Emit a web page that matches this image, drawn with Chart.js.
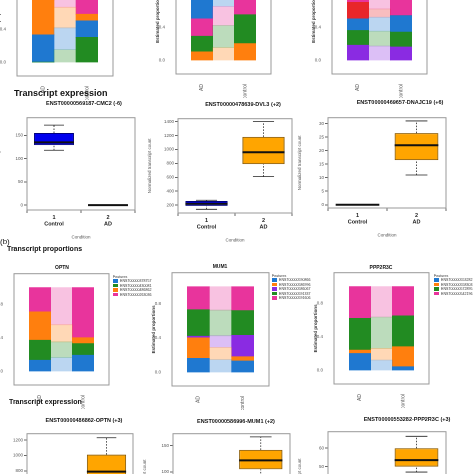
<!DOCTYPE html>
<html><head><meta charset="utf-8">
<script src="https://cdn.jsdelivr.net/npm/chart.js@4.4.0/dist/chart.umd.min.js"></script>
<style>
body{margin:0;width:474px;height:474px;overflow:hidden;background:#fff;position:relative;font-family:"Liberation Sans",Arial,sans-serif}
canvas{position:absolute}
.t{position:absolute;white-space:nowrap;color:#111}
.b{font-weight:bold}
.lg{position:absolute;font-size:3.6px;line-height:4.4px;color:#333}
.lg span{display:inline-block;width:5px;height:3.6px;margin-right:2px;vertical-align:top}
</style></head><body>
<script>
// ---------- data ----------
const BLUE='#1f78d0', ORANGE='#ff7f0e', GREEN='#228b22', PINK='#e8349c', PURPLE='#8a2be2', RED='#e8262a';
const propCats=['AD','','control'];
// top row proportions (segments bottom -> top)
const p1Colors=[GREEN,BLUE,ORANGE,PINK];   const p1AD=[0,0.33,0.42,0.25];  const p1Ctl=[0.3,0.2,0.08,0.42];
const p2Colors=[ORANGE,GREEN,PINK,BLUE];   const p2AD=[0.1,0.19,0.21,0.5]; const p2Ctl=[0.2,0.35,0.25,0.2];
const p3Colors=[PURPLE,GREEN,BLUE,RED,PINK,ORANGE]; const p3AD=[0.18,0.18,0.14,0.2,0.3,0]; const p3Ctl=[0.16,0.18,0.2,0,0.22,0.24];
// bottom row proportions
const p4Colors=[BLUE,GREEN,ORANGE,PINK];   const p4AD=[0.13,0.24,0.34,0.29]; const p4Ctl=[0.19,0.14,0.07,0.6];
const p4Names=['ENST00000378757','ENST00000430081','ENST00000486862','ENST00000263036'];
const p5Colors=[BLUE,ORANGE,PURPLE,GREEN,PINK]; const p5AD=[0.16,0.24,0.02,0.31,0.27]; const p5Ctl=[0.13,0.05,0.25,0.29,0.28];
const p5Names=['ENST00000590866','ENST00000586996','ENST00000586067','ENST00000591337','ENST00000591606'];
const p6Colors=[BLUE,ORANGE,GREEN,PINK];   const p6AD=[0.2,0.04,0.38,0.38]; const p6Ctl=[0.04,0.24,0.37,0.35];
const p6Names=['ENST00000553282','ENST00000558303','ENST00000572895','ENST00000542196'];
// box plots: [min,q1,median,q3,max]; categories Control, AD
const boxCats=[['1','Control'],['2','AD']];
const b1Ctl=[118,129,135,155,172]; const b1AD=[0,0,0,0,0];
const b2Ctl=[140,190,220,260,270]; const b2AD=[610,790,960,1180,1400];
const b3Ctl=[0,0,0,0,0];           const b3AD=[11,16.5,22,26.5,31];
const b4Ctl=[100,150,200,250,300]; const b4AD=[450,600,790,1010,1230];
const b5Ctl=[20,30,40,50,60];      const b5AD=[80,105,122,142,167];
const b6Ctl=[15,20,25,30,35];      const b6AD=[47,50,53.5,60,66.5];
const b1Ticks=[0,50,100,150], b2Ticks=[200,400,600,800,1000,1200,1400], b3Ticks=[0,5,10,15,20,25,30];
const b4Ticks=[800,1000,1200], b5Ticks=[100,150], b6Ticks=[40,50,60];

// ---------- helpers ----------
function fade(c){const n=parseInt(c.slice(1),16);return `rgba(${n>>16},${(n>>8)&255},${n&255},0.3)`;}
const framePlugin={id:'frame',afterDraw(ch){const o=ch.options.plugins.frame;if(!o)return;const a=ch.chartArea,c=ch.ctx;c.save();c.strokeStyle='#999';c.lineWidth=1;c.strokeRect(a.left-o.padX,a.top,a.right-a.left+2*o.padX,a.bottom-a.top);c.restore();}};
const boxPlugin={id:'boxes',afterDatasetsDraw(ch){const o=ch.options.plugins.boxes;if(!o||!o.stats)return;const xs=ch.scales.x,ys=ch.scales.y,c=ch.ctx;
 const slot=xs.getPixelForValue(1)-xs.getPixelForValue(0);
 c.save();c.beginPath();const a=ch.chartArea;c.rect(a.left,a.top,a.right-a.left,a.bottom-a.top);c.clip();
 o.stats.forEach((s,i)=>{const cx=xs.getPixelForValue(i),hw=slot*0.37;
  c.strokeStyle='#222';c.lineWidth=0.8;c.setLineDash([1.5,1.5]);
  c.beginPath();c.moveTo(cx,ys.getPixelForValue(s[3]));c.lineTo(cx,ys.getPixelForValue(s[4]));
  c.moveTo(cx,ys.getPixelForValue(s[0]));c.lineTo(cx,ys.getPixelForValue(s[1]));c.stroke();c.setLineDash([]);
  c.beginPath();c.moveTo(cx-hw*0.5,ys.getPixelForValue(s[4]));c.lineTo(cx+hw*0.5,ys.getPixelForValue(s[4]));
  c.moveTo(cx-hw*0.5,ys.getPixelForValue(s[0]));c.lineTo(cx+hw*0.5,ys.getPixelForValue(s[0]));c.stroke();
  c.lineWidth=2;c.strokeStyle='#111';c.beginPath();c.moveTo(cx-hw,ys.getPixelForValue(s[2]));c.lineTo(cx+hw,ys.getPixelForValue(s[2]));c.stroke();});
 c.restore();}};
Chart.register(framePlugin,boxPlugin);
Chart.defaults.font.family='"Liberation Sans", Arial, sans-serif';
Chart.defaults.color='#555';
function mkCanvas(l,t,w,h){const cv=document.createElement('canvas');cv.width=w;cv.height=h;cv.style.left=l+'px';cv.style.top=t+'px';cv.style.width=w+'px';cv.style.height=h+'px';document.body.appendChild(cv);return cv;}
function text(s,x,y,size,bold,center){const d=document.createElement('div');d.className='t'+(bold?' b':'');d.textContent=s;d.style.fontSize=size+'px';d.style.top=y+'px';if(center){d.style.left=(x-150)+'px';d.style.width='300px';d.style.textAlign='center';}else d.style.left=x+'px';document.body.appendChild(d);}
function legend(x,y,colors,names){const d=document.createElement('div');d.className='lg';d.style.left=x+'px';d.style.top=y+'px';let h='<div>Features</div>';colors.forEach((c,i)=>h+=`<div><span style="background:${c}"></span>${names[i]}</div>`);d.innerHTML=h;document.body.appendChild(d);}

function propChart(barL,barR,y0,y1,colors,ad,ctl){
 const padX=15,padY=16,W=36,T=4,XH=24,R=20,h=y0-y1;
 const cv=mkCanvas(barL-W,(y1-padY)-T,W+(barR-barL)+R,T+h+2*padY+XH);
 const ds=colors.map((c,i)=>({data:[ad[i],(ad[i]+ctl[i])/2,ctl[i]],backgroundColor:[c,fade(c),c],borderWidth:0,barPercentage:1,categoryPercentage:1}));
 new Chart(cv,{type:'bar',data:{labels:propCats,datasets:ds},options:{responsive:false,animation:false,devicePixelRatio:2,
  layout:{padding:{top:T,right:R,left:0,bottom:0}},
  plugins:{legend:{display:false},tooltip:{enabled:false},frame:{padX:padX}},
  scales:{x:{stacked:true,grid:{display:false},border:{display:false},afterFit:s=>{s.height=XH;},ticks:{font:{size:5},minRotation:90,maxRotation:90,padding:2}},
   y:{stacked:true,min:-padY/h,max:1+padY/h,grid:{display:false},border:{display:false},afterFit:s=>{s.width=W;},
    afterBuildTicks:s=>{s.ticks=[0,0.4,0.8].map(v=>({value:v}));},
    ticks:{font:{size:4.5},padding:padX+3,callback:v=>v.toFixed(1)},
    title:{display:true,text:'Estimated proportions',font:{size:4.5,weight:'bold'},padding:0,color:'#333'}}}}});
}
function boxChart(L,R,T,B,ymin,ymax,ticks,ctl,ad,ctlColor){
 const W=32,XH=30;
 const cv=mkCanvas(L-W,T-2,R-L+W+4,B-T+2+XH);
 new Chart(cv,{type:'bar',data:{labels:boxCats,datasets:[{data:[[ctl[1],ctl[3]],[ad[1],ad[3]]],backgroundColor:[ctlColor,'#ffa500'],borderColor:['#000080','#8a5a00'],borderWidth:1,borderSkipped:false,barPercentage:0.74,categoryPercentage:1}]},
  options:{responsive:false,animation:false,devicePixelRatio:2,layout:{padding:{top:2,right:4,left:0,bottom:0}},
  plugins:{legend:{display:false},tooltip:{enabled:false},frame:{padX:0},boxes:{stats:[ctl,ad]}},
  scales:{x:{grid:{display:true,drawOnChartArea:false,tickLength:3,color:'#666'},border:{display:false},afterFit:s=>{s.height=XH;},
    ticks:{font:{size:5.5,weight:'bold'},color:'#222',padding:1,maxRotation:0},
    title:{display:true,text:'Condition',font:{size:4.5},padding:0}},
   y:{min:ymin,max:ymax,grid:{display:true,drawOnChartArea:false,tickLength:3,color:'#666'},border:{display:false},afterFit:s=>{s.width=W;},
    afterBuildTicks:s=>{s.ticks=ticks.map(v=>({value:v}));},
    ticks:{font:{size:4.5},padding:1,callback:v=>String(v)},
    title:{display:true,text:'Normalized transcript count',font:{size:4.5},padding:1}}}}});
}

// ---------- panels ----------
propChart(32,98,60,-35,p1Colors,p1AD,p1Ctl);
propChart(191,256,58,-37,p2Colors,p2AD,p2Ctl);
propChart(347,412,58,-37,p3Colors,p3AD,p3Ctl);
text('Transcript expression',14,88,9,true);
text('ENST00000569187-CMC2 (-6)',84,100,5.5,true,true);
text('ENST00000478639-DVL3  (+2)',243,101,5.5,true,true);
text('ENST00000469657-DNAJC19  (+6)',400,99,5.5,true,true);
boxChart(27,135,116,210,-10.6,188,b1Ticks,b1Ctl,b1AD,'#0000ee');
boxChart(178,292,117,213,87,1442,b2Ticks,b2Ctl,b2AD,'#0000ee');
boxChart(328,446,116,208,-1.2,32.2,b3Ticks,b3Ctl,b3AD,'#0000ee');
text('(b)',0,237,8,false);
text('Transcript proportions',7,245,7,true);
propChart(29,94,369,273,p4Colors,p4AD,p4Ctl);
propChart(187,254,370,272,p5Colors,p5AD,p5Ctl);
propChart(349,414,368,272,p6Colors,p6AD,p6Ctl);
text('OPTN',62,264,5,true,true);
text('MUM1',220,263,5,true,true);
text('PPP2R3C',381,264,5,true,true);
legend(113,275,p4Colors,p4Names);
legend(272,274,p5Colors,p5Names);
legend(434,274,p6Colors,p6Names);
text('Transcript expression',9,398,7,true);
text('ENST00000486862-OPTN  (+3)',84,417,5.5,true,true);
text('ENST00000586996-MUM1  (+2)',236,418,5.5,true,true);
text('ENST00000553282-PPP2R3C (+3)',407,416,5.5,true,true);
boxChart(27,133,432,540,-100,1283,b4Ticks,b4Ctl,b4AD,'#0000ee');
boxChart(173,290,432,540,-30,173,b5Ticks,b5Ctl,b5AD,'#0000ee');
boxChart(328,446,430,540,10,69,b6Ticks,b6Ctl,b6AD,'#0000ee');
</script></body></html>
